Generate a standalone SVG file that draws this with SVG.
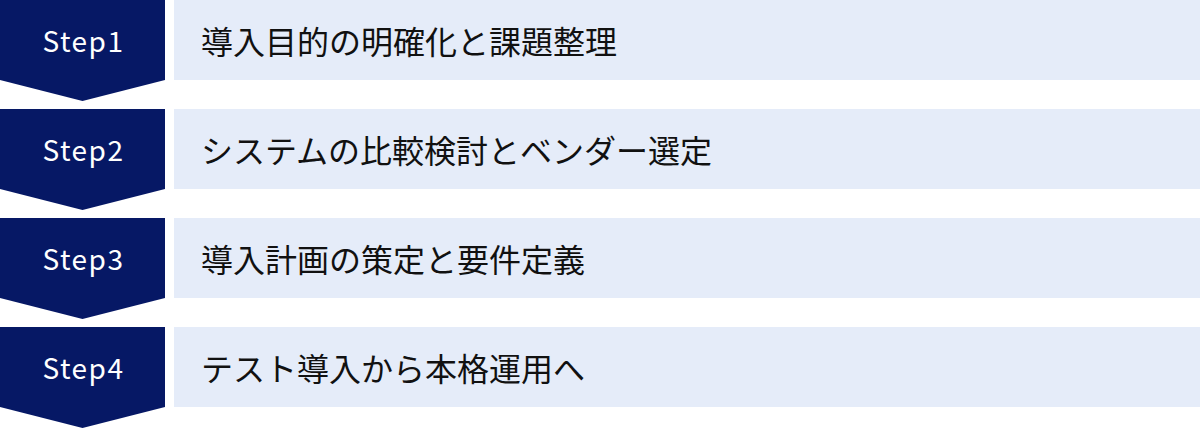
<svg xmlns="http://www.w3.org/2000/svg" width="1200" height="429" viewBox="0 0 1200 429">
<style>
.chev{fill:#061865}
.box{fill:#E5ECF9}
.step{font-family:"Noto Sans CJK JP","Noto Sans",sans-serif;font-size:28px;fill:#ffffff;text-anchor:middle;letter-spacing:1.5px}
.lbl{font-family:"Noto Sans CJK JP","Noto Sans",sans-serif;font-size:32px;fill:#111111;dominant-baseline:central}
</style>
<rect width="1200" height="429" fill="#ffffff"/>
<g id="step1">
<polygon class="chev" points="0,0 165,0 165,80 82.5,101 0,80"/>
<rect class="box" x="174" y="0" width="1026" height="80"/>
<text class="step" x="83.5" y="52">Step1</text>
<text class="lbl" x="201" y="40">導入目的の明確化と課題整理</text>
</g>
<g id="step2">
<polygon class="chev" points="0,109 165,109 165,189 82.5,210 0,189"/>
<rect class="box" x="174" y="109" width="1026" height="80"/>
<text class="step" x="83.5" y="161">Step2</text>
<text class="lbl" x="201" y="149">システムの比較検討とベンダー選定</text>
</g>
<g id="step3">
<polygon class="chev" points="0,218 165,218 165,298 82.5,319 0,298"/>
<rect class="box" x="174" y="218" width="1026" height="80"/>
<text class="step" x="83.5" y="270">Step3</text>
<text class="lbl" x="201" y="258">導入計画の策定と要件定義</text>
</g>
<g id="step4">
<polygon class="chev" points="0,327 165,327 165,407 82.5,428 0,407"/>
<rect class="box" x="174" y="327" width="1026" height="80"/>
<text class="step" x="83.5" y="379">Step4</text>
<text class="lbl" x="201" y="367">テスト導入から本格運用へ</text>
</g>
<g id="connectors"></g>
</svg>
